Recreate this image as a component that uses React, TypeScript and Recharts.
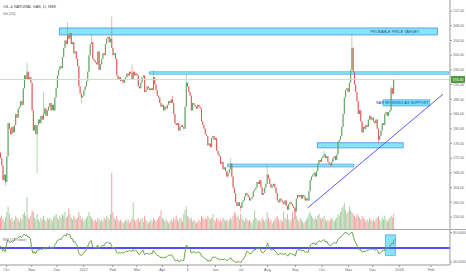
import React from "react";
import { ComposedChart, Bar, Line, XAxis, YAxis, ReferenceArea, ReferenceLine, Cell } from "recharts";

// daily ONGC candles, late Sep 2016 .. end Dec 2017
const FIRST_OPEN = 173.5;
const CLOSES = [
  172, 170, 166, 167.5, 165.5, 172.5, 181.5, 180, 178.5, 180.5,
  179, 181, 184, 183, 185.5, 186, 187.5, 186.5, 191, 194.5,
  193.5, 195.5, 193.5, 194, 192.5, 185, 179.5, 181, 178.5, 181,
  182.5, 181.5, 183.5, 182.5, 184, 185.5, 183.5, 185, 186, 187,
  185, 186.5, 185, 188.5, 191, 194.5, 196, 197, 196.5, 199.5,
  202, 204, 203, 205.5, 204.5, 206, 203, 203.5, 200.5, 201,
  199, 197, 191.5, 189.5, 188.5, 189, 190.5, 191.5, 193, 195.5,
  200, 203, 203.5, 199, 198.5, 198, 197.5, 201, 196, 197.5,
  199, 200.5, 200, 203, 204.5, 205, 203.5, 204.5, 202, 200,
  200.5, 199, 194.5, 193.5, 194, 193, 193.5, 192.5, 193.5, 194,
  195, 194.5, 195.5, 195, 193.5, 195.5, 194.5, 195, 194.5, 191.5,
  191, 192.5, 194, 194.5, 190, 190.5, 191.5, 191, 190.5, 191,
  190.5, 194, 192, 190.5, 189, 188.5, 187, 186, 186.5, 185,
  186, 185.5, 186.5, 187.5, 187, 188, 187, 184, 181.5, 181,
  181.5, 179.5, 180.5, 181, 180.5, 180, 186, 192.5, 191.5, 190,
  189, 185, 187, 186.5, 186, 185.5, 186.5, 186, 185.5, 182,
  181, 180, 178.5, 178, 175.5, 176, 175, 177.5, 178, 177,
  177.5, 174, 173, 172.5, 170.5, 171, 169, 169.5, 168.5, 167,
  168, 169, 170.5, 167, 164, 162.5, 160, 159, 160, 159,
  158.5, 160, 160.5, 161.5, 162.5, 162, 161.5, 160.5, 161, 161.5,
  163, 163.5, 164, 165.5, 165, 166, 164, 162, 162.5, 164,
  165, 167.5, 166.5, 165, 164, 164.5, 165, 164, 162.5, 160.5,
  160, 161, 160.5, 160, 159.5, 160.5, 159, 158, 159.5, 160,
  159.5, 159, 158.5, 157.5, 161, 162, 161.5, 162, 161, 162,
  161.5, 160.5, 161, 160.5, 163, 166, 167, 167.5, 168, 167,
  168.5, 170.5, 171.5, 171, 172, 172.5, 173, 172, 172.5, 171,
  170.5, 170, 171, 172, 172.5, 171.5, 173, 176.5, 177, 178,
  180.5, 184, 188.5, 190.5, 191, 190, 192.5, 196, 202, 195.5,
  192, 190, 187.5, 184, 185, 182, 179, 180.5, 180, 181,
  180.5, 182.5, 183.5, 182.5, 183, 182, 181.5, 182.5, 180, 177,
  178, 179.5, 181.5, 181, 184, 184.5, 183.5, 184.5, 185, 191,
  189.5, 193.4,
];
// only the wicks that stick out visibly
const HIGHS: Record<number, number> = {
  21: 198, 34: 190, 53: 209, 72: 205.5, 88: 210.5, 104: 197.5, 121: 196, 136: 189,
  147: 194.8, 182: 172, 211: 170, 256: 174, 278: 205.5, 309: 191.5,
};
const LOWS: Record<number, number> = { 4: 164.5, 29: 168, 64: 187, 190: 157.5, 233: 155.5, 299: 176 };
const VOLUMES = [
  6, 7, 5, 4, 6, 9, 12, 8, 5, 6, 4, 5, 7, 6, 5, 4, 6, 5, 8, 9,
  7, 17, 6, 5, 7, 10, 9, 6, 5, 8, 5, 4, 6, 5, 7, 5, 4, 6, 5, 6,
  5, 4, 6, 7, 8, 6, 5, 7, 6, 8, 7, 9, 6, 7, 11, 8, 6, 5, 7, 6,
  5, 6, 9, 7, 5, 6, 4, 5, 6, 7, 9, 7, 6, 5, 4, 5, 4, 6, 5, 4,
  5, 4, 6, 5, 7, 6, 5, 8, 30, 9, 6, 5, 7, 5, 4, 5, 4, 3, 4, 5,
  4, 5, 3, 4, 6, 14, 5, 4, 5, 6, 4, 5, 6, 4, 7, 5, 4, 3, 4, 5,
  4, 6, 5, 4, 5, 6, 7, 10, 6, 5, 4, 5, 4, 3, 4, 5, 4, 6, 5, 7,
  5, 4, 6, 5, 4, 8, 10, 12, 7, 6, 5, 6, 4, 5, 4, 3, 4, 5, 4, 7,
  6, 5, 6, 5, 7, 6, 5, 6, 8, 5, 4, 6, 5, 4, 5, 4, 6, 5, 4, 5,
  4, 5, 6, 5, 7, 9, 8, 6, 7, 5, 8, 6, 5, 4, 6, 5, 4, 5, 4, 3,
  5, 10, 6, 5, 4, 5, 4, 6, 5, 4, 5, 9, 6, 4, 5, 3, 4, 5, 6, 7,
  5, 4, 5, 4, 9, 6, 5, 8, 5, 4, 5, 9, 6, 11, 7, 5, 4, 6, 5, 4,
  3, 4, 5, 6, 8, 9, 7, 6, 5, 6, 5, 7, 8, 6, 5, 6, 7, 5, 4, 5,
  4, 5, 6, 5, 4, 5, 6, 8, 7, 9, 11, 12, 14, 10, 8, 9, 12, 10, 9, 8,
  7, 6, 8, 7, 6, 5, 7, 6, 5, 4, 5, 4, 6, 5, 4, 5, 4, 5, 6, 7,
  5, 4, 6, 5, 7, 5, 4, 5, 6, 7, 6, 8,
];
const RSI = [
  62, 60, 55, 57, 54, 63, 70, 68, 66, 68, 67, 69, 72, 71, 73, 74, 75, 73, 76, 78,
  76, 77, 74, 74, 72, 58, 52, 54, 51, 55, 57, 56, 58, 57, 58, 60, 57, 59, 60, 61,
  58, 60, 58, 62, 65, 69, 70, 71, 70, 73, 75, 77, 75, 79, 77, 78, 72, 72, 67, 68,
  65, 62, 53, 50, 49, 50, 53, 54, 57, 60, 65, 68, 69, 61, 60, 60, 59, 63, 58, 60,
  61, 63, 62, 65, 67, 67, 65, 66, 62, 59, 60, 58, 53, 52, 53, 52, 53, 52, 53, 54,
  55, 54, 56, 55, 54, 57, 55, 56, 55, 51, 50, 53, 55, 56, 50, 51, 52, 51, 51, 52,
  51, 56, 53, 51, 49, 49, 47, 46, 47, 45, 47, 46, 48, 49, 49, 50, 49, 45, 42, 42,
  43, 40, 42, 43, 42, 42, 54, 63, 61, 59, 57, 52, 54, 54, 53, 52, 54, 53, 52, 48,
  47, 46, 44, 44, 41, 42, 41, 45, 47, 46, 47, 45, 44, 44, 43, 44, 43, 44, 43, 42,
  43, 44, 46, 43, 42, 41, 40, 39.5, 41, 40, 39.5, 42, 44, 47, 51, 55, 53, 51, 52, 53,
  56, 57, 57, 59, 58, 59, 55, 52, 53, 55, 57, 66, 62, 58, 56, 57, 57, 55, 53, 50,
  50, 52, 51, 51, 50, 52, 50, 48, 51, 52, 51, 50, 50, 48, 55, 57, 56, 57, 55, 56,
  55, 53, 54, 53, 58, 63, 65, 65, 66, 63, 66, 68, 69, 67, 69, 70, 70, 67, 68, 64,
  63, 62, 64, 66, 67, 65, 68, 72, 73, 74, 76, 78, 80, 80, 79, 77, 78, 80, 80, 73,
  68, 65, 61, 57, 58, 55, 53, 55, 54, 56, 55, 57, 58, 57, 58, 57, 56, 57, 55, 51,
  52, 54, 56, 55, 59, 60, 58, 60, 63, 66, 64, 71,
];
const SLOTS = 356; // includes empty space to the right (into Feb 2018)
const MONTH_IDX = [5, 25, 45, 66, 89, 108, 128, 148, 170, 190, 211, 233, 254, 275, 294, 315, 340];
const MONTH_LABELS = ["Oct", "Nov", "Dec", "2017", "Feb", "Mar", "Apr", "3", "Jun", "Jul", "Aug", "Sep", "Oct", "Nov", "Dec", "2018", "Feb"];
const PRICE_TICKS = [156, 160, 164, 168, 172, 176, 180, 184, 188, 192, 196, 200, 204, 208, 212];
const RSI_TICKS = [40, 80];
const LAST_PRICE = 193.4;
const RSI_LEVEL = 59;

const UP = "#5ba35b";
const DOWN = "#e25555";
const BOX_FILL = "#79e3f6";
const BOX_STROKE = "#4a8cf0";
const FONT = "Liberation Sans, Arial, sans-serif";

const rows = Array.from({ length: SLOTS }, (_, i) => {
  if (i >= CLOSES.length) return { i };
  const open = i === 0 ? FIRST_OPEN : CLOSES[i - 1];
  const close = CLOSES[i];
  const high = HIGHS[i] ?? Math.max(open, close);
  const low = LOWS[i] ?? Math.min(open, close);
  return { i, open, close, high, low, range: [low, high], vol: VOLUMES[i], rsi: RSI[i], up: close >= open };
});

function Candle(props: any) {
  const { x, y, width, height, payload } = props;
  if (!payload || payload.close == null) return null;
  const top = Math.min(y, y + height);
  const bottom = Math.max(y, y + height);
  const span = payload.high - payload.low;
  const toY = (v: number) => (span === 0 ? top : top + ((payload.high - v) / span) * (bottom - top));
  const color = payload.up ? UP : DOWN;
  const cx = x + width / 2;
  const bTop = toY(Math.max(payload.open, payload.close));
  const bBot = toY(Math.min(payload.open, payload.close));
  return (
    <g>
      <line x1={cx} x2={cx} y1={top} y2={bottom} stroke={color} strokeOpacity={0.45} strokeWidth={1} />
      <rect x={x} y={bTop} width={Math.max(1, width)} height={Math.max(1, bBot - bTop)} fill={color} />
    </g>
  );
}

function PriceTag(props: any) {
  const { viewBox } = props;
  if (!viewBox) return null;
  const x = viewBox.x + viewBox.width;
  const y = viewBox.y;
  return (
    <g>
      <rect x={x + 1} y={y - 3.5} width={14} height={7} fill="#4f9a3d" />
      <text x={x + 8} y={y + 1.3} fontSize={3.6} fill="#fff" textAnchor="middle" fontFamily={FONT}>
        {LAST_PRICE.toFixed(2)}
      </text>
    </g>
  );
}

const boxLabel = (text: string, fromRight: number) => (props: any) => {
  const { viewBox } = props;
  if (!viewBox) return null;
  return (
    <text
      x={viewBox.x + viewBox.width - fromRight}
      y={viewBox.y + viewBox.height / 2 + 1.3}
      fontSize={3.8}
      fill="#1b3fa8"
      textAnchor="end"
      fontFamily={FONT}
    >
      {text}
    </text>
  );
};

const axisTick = { fontSize: 3.6, fill: "#666", fontFamily: FONT };

export default function App() {
  return (
    <div style={{ position: "relative", width: 466, height: 275, background: "#fff", overflow: "hidden" }}>
      <style>{`body{margin:0}`}</style>

      {/* volume, behind the candles */}
      <div style={{ position: "absolute", left: 0, top: 0 }}>
        <ComposedChart width={466} height={229} data={rows} barCategoryGap={0} margin={{ top: 0, right: 16, bottom: 0, left: 0 }}>
          <XAxis dataKey="i" type="category" hide />
          <YAxis hide domain={[0, 122]} allowDataOverflow />
          <Bar dataKey="vol" isAnimationActive={false}>
            {rows.map((r: any) => (
              <Cell key={r.i} fill={r.up ? "#a9cfa3" : "#f4a3a3"} />
            ))}
          </Bar>
        </ComposedChart>
      </div>

      {/* price pane */}
      <div style={{ position: "absolute", left: 0, top: 0 }}>
        <ComposedChart width={466} height={229} data={rows} barCategoryGap={0} margin={{ top: 0, right: 0, bottom: 0, left: 0 }}>
          <XAxis dataKey="i" type="category" hide />
          <YAxis
            orientation="right"
            width={16}
            domain={[152.74, 215]}
            allowDataOverflow
            ticks={PRICE_TICKS}
            interval={0}
            tickFormatter={(v: number) => v.toFixed(2)}
            tick={axisTick}
            tickSize={2}
            tickMargin={1}
            axisLine={{ stroke: "#999" }}
            tickLine={{ stroke: "#999" }}
          />
          <ReferenceLine y={LAST_PRICE} stroke="#c6e3bd" strokeWidth={1} label={<PriceTag />} />
          <Bar dataKey="range" shape={<Candle />} isAnimationActive={false} />
          <ReferenceArea x1={47} x2={345} y1={205.5} y2={207.4} fill={BOX_FILL} fillOpacity={0.9} stroke={BOX_STROKE} strokeWidth={0.8} label={boxLabel("PROBABLE PRICE TARGET", 18)} />
          <ReferenceArea x1={118} x2={354} y1={194.8} y2={195.5} fill={BOX_FILL} fillOpacity={0.9} stroke={BOX_STROKE} strokeWidth={0.6} />
          <ReferenceArea x1={180} x2={279} y1={169.6} y2={170.4} fill={BOX_FILL} fillOpacity={0.9} stroke={BOX_STROKE} strokeWidth={0.6} />
          <ReferenceArea x1={251} x2={318} y1={174.8} y2={176.2} fill={BOX_FILL} fillOpacity={0.9} stroke={BOX_STROKE} strokeWidth={0.8} />
          <ReferenceLine segment={[{ x: 243, y: 158.5 }, { x: 350, y: 189.4 }]} stroke="#5c5cf5" strokeWidth={1} />
          <ReferenceArea x1={303} x2={339} y1={186.2} y2={187.9} fill={BOX_FILL} fillOpacity={1} stroke={BOX_STROKE} strokeWidth={0.6} label={boxLabel("SAR WORKING AS SUPPORT", 1)} />
        </ComposedChart>
      </div>

      {/* RSI pane */}
      <div style={{ position: "absolute", left: 0, top: 229, borderTop: "1px solid #aaa", width: 466 }}>
        <ComposedChart width={466} height={45} data={rows} margin={{ top: 0, right: 0, bottom: 0, left: 0 }}>
          <XAxis
            dataKey="i"
            type="category"
            ticks={MONTH_IDX}
            interval={0}
            height={10}
            tickFormatter={(v: number) => MONTH_LABELS[MONTH_IDX.indexOf(v)] ?? ""}
            tick={{ ...axisTick, fontSize: 3.8 }}
            tickSize={2}
            tickMargin={1}
            axisLine={{ stroke: "#999" }}
            tickLine={{ stroke: "#999" }}
          />
          <YAxis
            orientation="right"
            width={16}
            domain={[36, 83.5]}
            allowDataOverflow
            ticks={RSI_TICKS}
            interval={0}
            tickFormatter={(v: number) => v.toFixed(4)}
            tick={axisTick}
            tickSize={2}
            tickMargin={1}
            axisLine={{ stroke: "#999" }}
            tickLine={{ stroke: "#999" }}
          />
          <ReferenceLine y={RSI_LEVEL} stroke="#4f4ff7" strokeWidth={2} />
          <ReferenceArea x1={304} x2={312} y1={49} y2={77} fill={BOX_FILL} fillOpacity={0.9} stroke={BOX_STROKE} strokeWidth={0.6} />
          <Line dataKey="rsi" stroke="#6ca34a" strokeWidth={1} dot={false} isAnimationActive={false} />
        </ComposedChart>
      </div>

      <svg width={466} height={275} style={{ position: "absolute", left: 0, top: 0, pointerEvents: "none" }}>
        <text x={3} y={8} fontSize={3.9} fill="#444" fontFamily={FONT}>OIL &amp; NATURAL GAS, D, NSE</text>
        <text x={3} y={15} fontSize={3.6} fill="#666" fontFamily={FONT}>Vol (20)</text>
        <text x={3} y={241} fontSize={3.6} fill="#666" fontFamily={FONT}>RSI (14, close)</text>
      </svg>
    </div>
  );
}
